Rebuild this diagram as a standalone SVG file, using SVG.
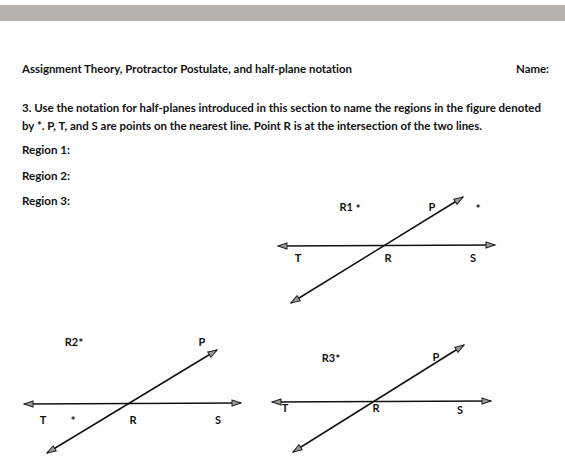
<svg xmlns="http://www.w3.org/2000/svg" width="565" height="463" viewBox="0 0 565 463">
<defs>
<style>
.t{font-family:Lato,"Open Sans","Liberation Sans",sans-serif;font-weight:bold;font-size:12px;fill:#111;font-variant-ligatures:none}
.l{font-family:Lato,"Open Sans","Liberation Sans",sans-serif;font-weight:bold;font-size:11px;fill:#111;text-anchor:middle}
.s{font-size:12px}
.ln{stroke:#111;stroke-width:1.5;fill:none;marker-start:url(#ah);marker-end:url(#ah)}
</style>
<marker id="ah" markerUnits="userSpaceOnUse" markerWidth="12" markerHeight="10" refX="10" refY="4" orient="auto-start-reverse" viewBox="0 0 12 10">
<path d="M1,1 L10,4 L1,7 z" fill="#9a9a9a" stroke="#222" stroke-width="1"/>
</marker>
</defs>
<rect x="0" y="0" width="565" height="463" fill="#fff"/>
<rect x="0" y="5" width="565" height="16" fill="#b7b1ad"/>
<g id="header">
<text class="t" x="22" y="73" textLength="330" lengthAdjust="spacingAndGlyphs">Assignment Theory, Protractor Postulate, and half-plane notation</text>
<text class="t" x="516" y="73" textLength="33" lengthAdjust="spacingAndGlyphs">Name:</text>
<text class="t" x="22" y="112" textLength="519" lengthAdjust="spacingAndGlyphs">3.  Use the notation for half-planes introduced in this section to name the regions in the figure denoted</text>
<text class="t" x="22" y="130" textLength="460" lengthAdjust="spacingAndGlyphs">by *. P, T, and S are points on the nearest line. Point R is at the intersection of the two lines.</text>
<text class="t" x="22" y="154" textLength="48" lengthAdjust="spacingAndGlyphs">Region 1:</text>
<text class="t" x="22" y="180" textLength="48" lengthAdjust="spacingAndGlyphs">Region 2:</text>
<text class="t" x="22" y="205" textLength="48" lengthAdjust="spacingAndGlyphs">Region 3:</text>
</g>
<g id="connectors">
<line class="ln" x1="278" y1="246" x2="495" y2="245"/>
<line class="ln" x1="291" y1="303" x2="463" y2="197"/>
<line class="ln" x1="24" y1="404" x2="241" y2="403"/>
<line class="ln" x1="47" y1="453" x2="217" y2="350"/>
<line class="ln" x1="272" y1="402" x2="491" y2="401"/>
<line class="ln" x1="293" y1="452" x2="464" y2="345"/>
</g>
<g id="figure1">
<text class="l" x="350" y="211">R1 <tspan class="s" dy="2">*</tspan></text>
<text class="l" x="432" y="211">P</text>
<text class="l s" x="478" y="213">*</text>
<text class="l" x="298" y="262">T</text>
<text class="l" x="388" y="262">R</text>
<text class="l" x="473" y="262">S</text>
</g>
<g id="figure2">
<text class="l" x="74" y="346">R2<tspan class="s" dy="1">*</tspan></text>
<text class="l" x="202" y="346">P</text>
<text class="l" x="43" y="424">T</text>
<text class="l s" x="73" y="425">*</text>
<text class="l" x="133" y="424">R</text>
<text class="l" x="218" y="424">S</text>
</g>
<g id="figure3">
<text class="l" x="331" y="362">R3<tspan class="s" dy="1">*</tspan></text>
<text class="l" x="436" y="361">P</text>
<text class="l" x="285" y="412">T</text>
<text class="l" x="376" y="412">R</text>
<text class="l" x="460" y="414">S</text>
</g>
</svg>
